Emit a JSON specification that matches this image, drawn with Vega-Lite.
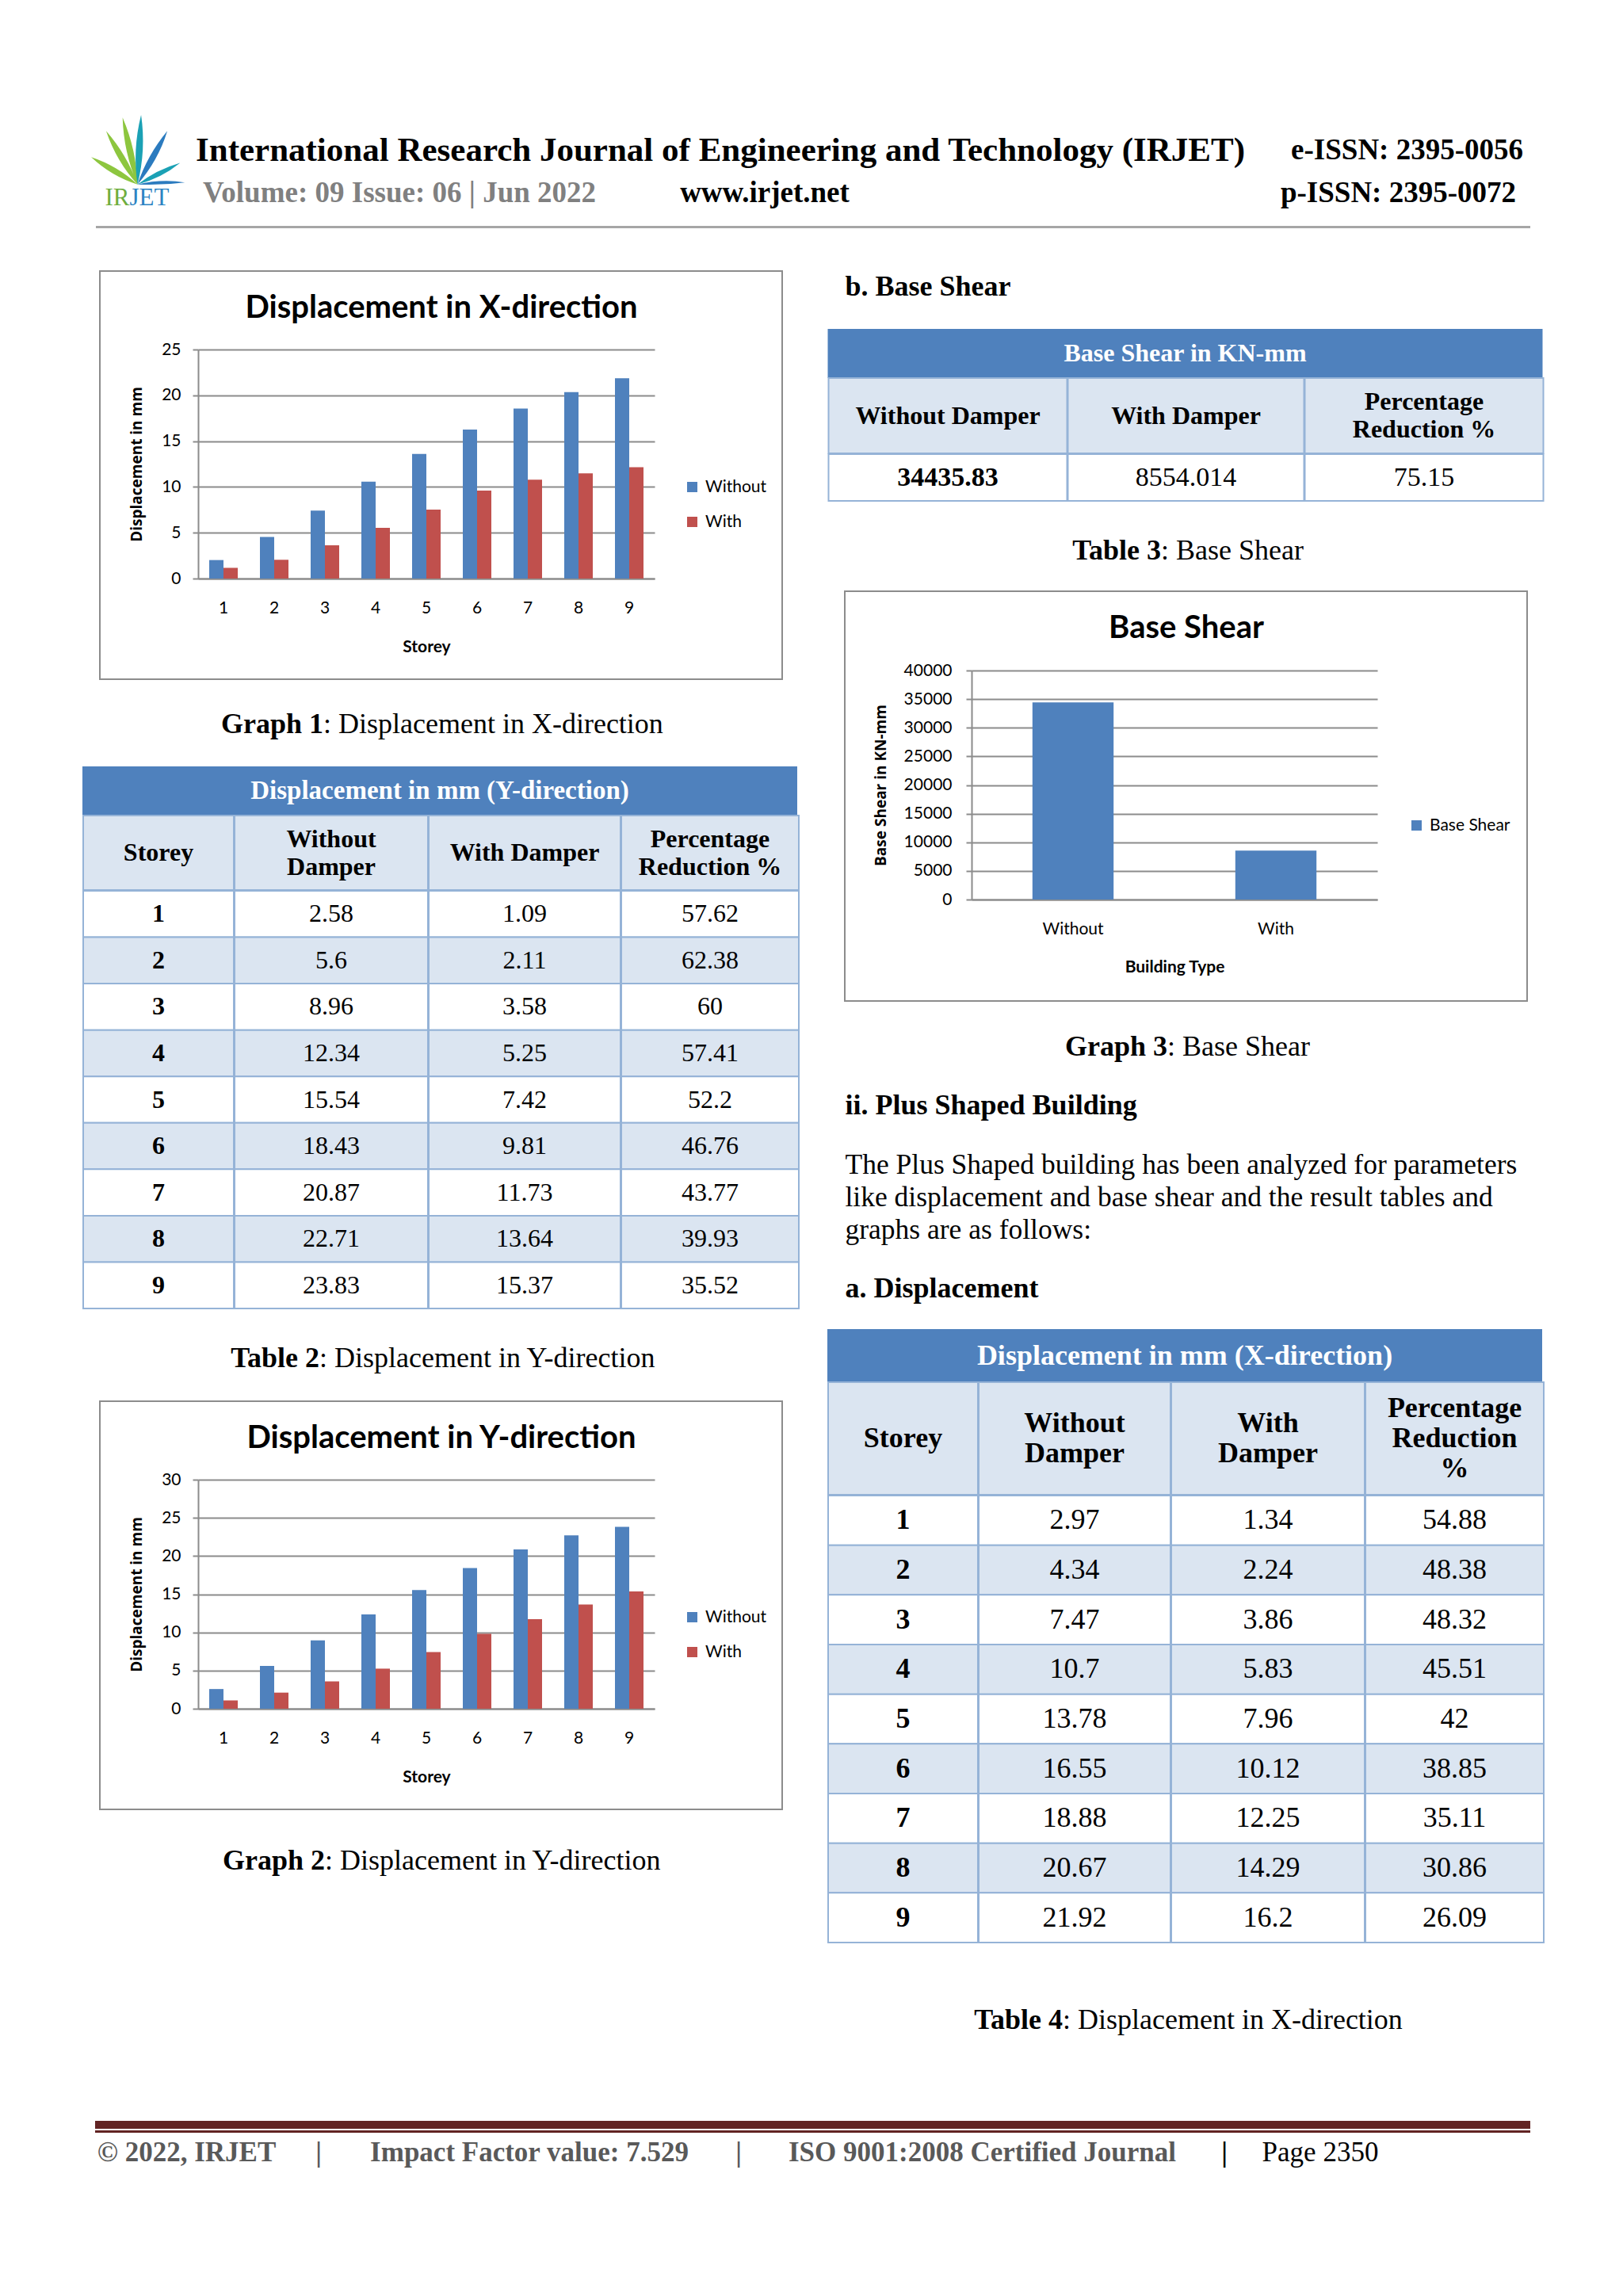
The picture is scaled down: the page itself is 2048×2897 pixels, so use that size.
{
 "$schema": "https://vega.github.io/schema/vega-lite/v6.json",
 "background": "#ffffff",
 "padding": {"left": 104, "top": 140, "right": 0, "bottom": 0},
 "config": {"view": {"stroke": null}, "concat": {"spacing": 0}},
 "datasets": {
  "g1": [
   {"Storey": 1, "Without": 2.02, "With": 1.17},
   {"Storey": 2, "Without": 4.54, "With": 2.05},
   {"Storey": 3, "Without": 7.41, "With": 3.63},
   {"Storey": 4, "Without": 10.58, "With": 5.54},
   {"Storey": 5, "Without": 13.6, "With": 7.53},
   {"Storey": 6, "Without": 16.27, "With": 9.61},
   {"Storey": 7, "Without": 18.55, "With": 10.79},
   {"Storey": 8, "Without": 20.34, "With": 11.49},
   {"Storey": 9, "Without": 21.86, "With": 12.16}
  ],
  "t2": [
   {"Storey": 1, "Without": 2.58, "With": 1.09, "Pct": 57.62},
   {"Storey": 2, "Without": 5.6, "With": 2.11, "Pct": 62.38},
   {"Storey": 3, "Without": 8.96, "With": 3.58, "Pct": 60},
   {"Storey": 4, "Without": 12.34, "With": 5.25, "Pct": 57.41},
   {"Storey": 5, "Without": 15.54, "With": 7.42, "Pct": 52.2},
   {"Storey": 6, "Without": 18.43, "With": 9.81, "Pct": 46.76},
   {"Storey": 7, "Without": 20.87, "With": 11.73, "Pct": 43.77},
   {"Storey": 8, "Without": 22.71, "With": 13.64, "Pct": 39.93},
   {"Storey": 9, "Without": 23.83, "With": 15.37, "Pct": 35.52}
  ],
  "t4": [
   {"Storey": 1, "Without": 2.97, "With": 1.34, "Pct": 54.88},
   {"Storey": 2, "Without": 4.34, "With": 2.24, "Pct": 48.38},
   {"Storey": 3, "Without": 7.47, "With": 3.86, "Pct": 48.32},
   {"Storey": 4, "Without": 10.7, "With": 5.83, "Pct": 45.51},
   {"Storey": 5, "Without": 13.78, "With": 7.96, "Pct": 42},
   {"Storey": 6, "Without": 16.55, "With": 10.12, "Pct": 38.85},
   {"Storey": 7, "Without": 18.88, "With": 12.25, "Pct": 35.11},
   {"Storey": 8, "Without": 20.67, "With": 14.29, "Pct": 30.86},
   {"Storey": 9, "Without": 21.92, "With": 16.2, "Pct": 26.09}
  ],
  "t3": [{"Without Damper": 34435.83, "With Damper": 8554.014, "Pct": 75.15}],
  "g3": [
   {"Type": "Without", "Value": 34435.83, "Series": "Base Shear"},
   {"Type": "With", "Value": 8554.014, "Series": "Base Shear"}
  ]
 },
 "spacing": 0,
 "resolve": {"scale": {"color": "independent"}, "legend": {"color": "independent"}},
 "vconcat": [
  {"hconcat": [
   {"vconcat": [
    {"width": 137, "height": 92, "data": {"values": [{"logo": "IRJET"}]}, "layer": [
     {"mark": {"type": "point", "filled": true, "opacity": 1, "size": 16848, "color": "#8dc63f", "shape": "M0,0.72Q-0.39,0.36 -0.9,0.19Q-0.51,0.56 0,0.72Z M0,0.72Q-0.2,0.15 -0.61,-0.32Q-0.41,0.27 0,0.72Z M0,0.72Q-0.02,0.05 -0.29,-0.58Q-0.27,0.1 0,0.72Z"}, "encoding": {}},
     {"mark": {"type": "point", "filled": true, "opacity": 1, "size": 16848, "color": "#1ba1b5", "shape": "M0,0.72Q0.17,0.05 0.07,-0.63Q-0.1,0.05 0,0.72Z M0,0.72Q0.46,0.6 0.83,0.3Q0.37,0.43 0,0.72Z"}, "encoding": {}},
     {"mark": {"type": "point", "filled": true, "opacity": 1, "size": 16848, "color": "#2b7bbf", "shape": "M0,0.72Q0.4,0.26 0.58,-0.32Q0.19,0.15 0,0.72Z M0,0.72Q0.46,0.74 0.92,0.68Q0.46,0.61 0,0.72Z"}, "encoding": {}}
    ]},
    {"width": 137, "height": 30, "data": {"values": [{"a": "IR", "b": "JET"}]}, "layer": [
     {"mark": {"type": "text", "align": "right", "dx": -10, "font": "Liberation Serif", "fontSize": 31, "color": "#6fae3f"}, "encoding": {"text": {"field": "a", "type": "nominal"}}},
     {"mark": {"type": "text", "align": "left", "dx": -10, "font": "Liberation Serif", "fontSize": 31, "color": "#2c83c3"}, "encoding": {"text": {"field": "b", "type": "nominal"}}}
    ]}
   ], "spacing": 0},
   {"vconcat": [
    {"width": 1, "height": 18, "data": {"values": []}, "mark": "rect", "encoding": {}},
    {"width": 1675, "height": 64, "data": {"values": [{"title": "International Research Journal of Engineering and Technology (IRJET)", "issn": "e-ISSN: 2395-0056"}]}, "layer": [
     {"mark": {"type": "text", "align": "left", "font": "Liberation Serif", "fontSize": 43, "fontWeight": "bold", "color": "#000000"}, "encoding": {"text": {"field": "title", "type": "nominal"}, "x": {"datum": 0, "type": "quantitative", "scale": {"domain": [0, 1]}, "axis": null}}},
     {"mark": {"type": "text", "align": "right", "font": "Liberation Serif", "fontSize": 37, "fontWeight": "bold", "color": "#000000"}, "encoding": {"text": {"field": "issn", "type": "nominal"}, "x": {"datum": 1, "type": "quantitative", "scale": {"domain": [0, 1]}, "axis": null}}}
    ]},
    {"hconcat": [
     {"width": 9, "height": 44, "data": {"values": []}, "mark": "rect", "encoding": {}},
     {"width": 505, "height": 44, "data": {"values": [{"t": "Volume: 09 Issue: 06 | Jun 2022"}]}, "mark": {"type": "text", "align": "left", "font": "Liberation Serif", "fontSize": 37, "fontWeight": "bold", "color": "#808080"}, "encoding": {"text": {"field": "t", "type": "nominal"}, "x": {"datum": 0, "type": "quantitative", "scale": {"domain": [0, 1]}, "axis": null}}},
     {"width": 408, "height": 44, "data": {"values": [{"t": "www.irjet.net"}]}, "mark": {"type": "text", "font": "Liberation Serif", "fontSize": 37, "fontWeight": "bold", "color": "#000000"}, "encoding": {"text": {"field": "t", "type": "nominal"}}},
     {"width": 744, "height": 44, "data": {"values": [{"t": "p-ISSN: 2395-0072"}]}, "mark": {"type": "text", "align": "right", "font": "Liberation Serif", "fontSize": 37, "fontWeight": "bold", "color": "#000000"}, "encoding": {"text": {"field": "t", "type": "nominal"}, "x": {"datum": 1, "type": "quantitative", "scale": {"domain": [0, 1]}, "axis": null}}}
    ], "spacing": 0}
   ], "spacing": 0}
  ], "spacing": 5},
  {"width": 1, "height": 19, "data": {"values": []}, "mark": "rect", "encoding": {}},
  {"hconcat": [
   {"width": 16, "height": 3, "data": {"values": []}, "mark": "rect", "encoding": {}},
   {"width": 1810, "height": 3, "data": {"values": [{"k": 1}]}, "mark": {"type": "rect", "fill": "#a6a6a6"}, "encoding": {}}
  ], "spacing": 0},
  {"hconcat": [
   {"vconcat": [
    {"width": 1, "height": 53, "data": {"values": []}, "mark": "rect", "encoding": {}},
    {
     "width": 861, "height": 515,
     "view": {"stroke": "#8c8c8c", "strokeWidth": 2},
     "data": {"name": "g1"},
     "transform": [{"fold": ["Without", "With"], "as": ["Series", "Value"]}],
     "resolve": {"axis": {"x": "independent"}},
     "layer": [
      {
       "mark": {"type": "bar"},
       "encoding": {
        "x": {"field": "Storey", "type": "ordinal", "title": "Storey",
         "scale": {"range": [124, 700], "paddingInner": 0.4375, "paddingOuter": 0.21875},
         "axis": {"orient": "bottom", "offset": -127, "labelAngle": 0, "ticks": false, "domainColor": "#8c8c8c", "domainWidth": 2, "labelFont": "Lato", "labelFontSize": 21, "labelColor": "#000000", "labelBaseline": "middle", "labelPadding": 37, "titleFont": "Lato", "titleFontSize": 21, "titleFontWeight": "bold", "titleColor": "#000000", "titleY": 86, "titleBaseline": "middle"}},
        "xOffset": {"field": "Series", "type": "nominal", "sort": ["Without", "With"], "scale": {"paddingInner": 0, "paddingOuter": 0}},
        "y": {"field": "Value", "type": "quantitative", "title": "Displacement in mm",
         "scale": {"domain": [0, 25], "range": [388, 99], "nice": false},
         "axis": {"values": [0, 5, 10, 15, 20, 25], "offset": -124, "grid": true, "gridColor": "#8c8c8c", "gridWidth": 2, "domainColor": "#8c8c8c", "domainWidth": 2, "tickColor": "#8c8c8c", "tickWidth": 2, "tickSize": 7, "labelFont": "Lato", "labelFontSize": 21, "labelColor": "#000000", "labelPadding": 15, "titleFont": "Open Sans", "titleFontSize": 19, "titleFontWeight": "bold", "titleColor": "#000000", "titleX": -78, "titleBaseline": "middle"}},
        "color": {"field": "Series", "type": "nominal", "sort": ["Without", "With"], "scale": {"range": ["#4f81bd", "#c0504d"]},
         "legend": {"orient": "none", "legendX": 737, "legendY": 262, "title": null, "symbolType": "square", "symbolSize": 169, "symbolStrokeWidth": 0, "labelFont": "Lato", "labelFontSize": 21, "labelColor": "#000000", "rowPadding": 22, "labelOffset": 6}}
       }
      },
      {
       "mark": {"type": "tick", "opacity": 0},
       "encoding": {
        "x": {"field": "Storey", "type": "ordinal", "title": "Displacement in X-direction",
         "axis": {"orient": "top", "domain": false, "labels": false, "ticks": false, "grid": false, "titleFont": "Lato", "titleFontSize": 40, "titleFontWeight": "bold", "titleColor": "#000000", "titleX": 430.5, "titleY": 46, "titleBaseline": "middle", "titleAlign": "center"}}
       }
      }
     ]
    },
    {"width": 1, "height": 32, "data": {"values": []}, "mark": "rect", "encoding": {}},
    {"hconcat": [
     {"width": 200, "height": 48, "data": {"values": [{"t": "Graph 1"}]}, "mark": {"type": "text", "align": "right", "font": "Liberation Serif", "fontSize": 36, "fontWeight": "bold", "color": "#000000"}, "encoding": {"text": {"field": "t", "type": "nominal"}, "x": {"datum": 1, "type": "quantitative", "scale": {"domain": [0, 1]}, "axis": null}}},
     {"width": 498, "height": 48, "data": {"values": [{"t": ": Displacement in X-direction"}]}, "mark": {"type": "text", "align": "left", "font": "Liberation Serif", "fontSize": 36, "color": "#000000"}, "encoding": {"text": {"field": "t", "type": "nominal"}, "x": {"datum": 0, "type": "quantitative", "scale": {"domain": [0, 1]}, "axis": null}}}
    ], "spacing": 0},
    {"width": 1, "height": 29, "data": {"values": []}, "mark": "rect", "encoding": {}},
    {"vconcat": [
     {"width": 900, "height": 60, "data": {"values": [{"t": "Displacement in mm (Y-direction)"}]}, "layer": [
      {"mark": {"type": "rect", "fill": "#4f81bd", "stroke": "#4f81bd", "strokeWidth": 2}, "encoding": {}},
      {"mark": {"type": "text", "font": "Liberation Serif", "fontSize": 33, "fontWeight": "bold", "color": "#ffffff"}, "encoding": {"text": {"field": "t", "type": "nominal"}}}
     ]},
     {"hconcat": [
      {"width": 190, "height": 94, "data": {"values": [{"t": "Storey"}]}, "layer": [
       {"mark": {"type": "rect", "fill": "#dbe5f1", "stroke": "#95b3d7", "strokeWidth": 2}, "encoding": {}},
       {"mark": {"type": "text", "font": "Liberation Serif", "fontSize": 32, "fontWeight": "bold", "lineHeight": 35, "lineBreak": "\n", "color": "#000000"}, "encoding": {"text": {"field": "t", "type": "nominal"}}}
      ]},
      {"width": 244, "height": 94, "data": {"values": [{"t": "Without\nDamper"}]}, "layer": [
       {"mark": {"type": "rect", "fill": "#dbe5f1", "stroke": "#95b3d7", "strokeWidth": 2}, "encoding": {}},
       {"mark": {"type": "text", "font": "Liberation Serif", "fontSize": 32, "fontWeight": "bold", "lineHeight": 35, "lineBreak": "\n", "dy": -17.5, "color": "#000000"}, "encoding": {"text": {"field": "t", "type": "nominal"}}}
      ]},
      {"width": 242, "height": 94, "data": {"values": [{"t": "With Damper"}]}, "layer": [
       {"mark": {"type": "rect", "fill": "#dbe5f1", "stroke": "#95b3d7", "strokeWidth": 2}, "encoding": {}},
       {"mark": {"type": "text", "font": "Liberation Serif", "fontSize": 32, "fontWeight": "bold", "lineHeight": 35, "lineBreak": "\n", "color": "#000000"}, "encoding": {"text": {"field": "t", "type": "nominal"}}}
      ]},
      {"width": 224, "height": 94, "data": {"values": [{"t": "Percentage\nReduction %"}]}, "layer": [
       {"mark": {"type": "rect", "fill": "#dbe5f1", "stroke": "#95b3d7", "strokeWidth": 2}, "encoding": {}},
       {"mark": {"type": "text", "font": "Liberation Serif", "fontSize": 32, "fontWeight": "bold", "lineHeight": 35, "lineBreak": "\n", "dy": -17.5, "color": "#000000"}, "encoding": {"text": {"field": "t", "type": "nominal"}}}
      ]}
     ], "spacing": -2},
     {"hconcat": [
      {"width": 190, "height": 527, "data": {"name": "t2"}, "encoding": {"y": {"field": "Storey", "type": "ordinal", "axis": null, "scale": {"type": "band", "padding": 0}}}, "layer": [
       {"mark": {"type": "rect", "stroke": "#95b3d7", "strokeWidth": 2}, "encoding": {"fill": {"condition": {"test": "datum.Storey % 2 === 0", "value": "#dbe5f1"}, "value": "#ffffff"}}},
       {"mark": {"type": "text", "font": "Liberation Serif", "fontSize": 32, "fontWeight": "bold", "color": "#000000"}, "encoding": {"text": {"field": "Storey", "type": "nominal"}}}
      ]},
      {"width": 244, "height": 527, "data": {"name": "t2"}, "encoding": {"y": {"field": "Storey", "type": "ordinal", "axis": null, "scale": {"type": "band", "padding": 0}}}, "layer": [
       {"mark": {"type": "rect", "stroke": "#95b3d7", "strokeWidth": 2}, "encoding": {"fill": {"condition": {"test": "datum.Storey % 2 === 0", "value": "#dbe5f1"}, "value": "#ffffff"}}},
       {"mark": {"type": "text", "font": "Liberation Serif", "fontSize": 32, "color": "#000000"}, "encoding": {"text": {"field": "Without", "type": "nominal"}}}
      ]},
      {"width": 242, "height": 527, "data": {"name": "t2"}, "encoding": {"y": {"field": "Storey", "type": "ordinal", "axis": null, "scale": {"type": "band", "padding": 0}}}, "layer": [
       {"mark": {"type": "rect", "stroke": "#95b3d7", "strokeWidth": 2}, "encoding": {"fill": {"condition": {"test": "datum.Storey % 2 === 0", "value": "#dbe5f1"}, "value": "#ffffff"}}},
       {"mark": {"type": "text", "font": "Liberation Serif", "fontSize": 32, "color": "#000000"}, "encoding": {"text": {"field": "With", "type": "nominal"}}}
      ]},
      {"width": 224, "height": 527, "data": {"name": "t2"}, "encoding": {"y": {"field": "Storey", "type": "ordinal", "axis": null, "scale": {"type": "band", "padding": 0}}}, "layer": [
       {"mark": {"type": "rect", "stroke": "#95b3d7", "strokeWidth": 2}, "encoding": {"fill": {"condition": {"test": "datum.Storey % 2 === 0", "value": "#dbe5f1"}, "value": "#ffffff"}}},
       {"mark": {"type": "text", "font": "Liberation Serif", "fontSize": 32, "color": "#000000"}, "encoding": {"text": {"field": "Pct", "type": "nominal"}}}
      ]}
     ], "spacing": -2}
    ], "spacing": -2},
    {"width": 1, "height": 38, "data": {"values": []}, "mark": "rect", "encoding": {}},
    {"hconcat": [
     {"width": 180, "height": 48, "data": {"values": [{"t": "Table 2"}]}, "mark": {"type": "text", "align": "right", "font": "Liberation Serif", "fontSize": 36, "fontWeight": "bold", "color": "#000000"}, "encoding": {"text": {"field": "t", "type": "nominal"}, "x": {"datum": 1, "type": "quantitative", "scale": {"domain": [0, 1]}, "axis": null}}},
     {"width": 488, "height": 48, "data": {"values": [{"t": ": Displacement in Y-direction"}]}, "mark": {"type": "text", "align": "left", "font": "Liberation Serif", "fontSize": 36, "color": "#000000"}, "encoding": {"text": {"field": "t", "type": "nominal"}, "x": {"datum": 0, "type": "quantitative", "scale": {"domain": [0, 1]}, "axis": null}}}
    ], "spacing": 0},
    {"width": 1, "height": 29, "data": {"values": []}, "mark": "rect", "encoding": {}},
    {
     "width": 861, "height": 515,
     "view": {"stroke": "#8c8c8c", "strokeWidth": 2},
     "data": {"name": "t2"},
     "transform": [{"fold": ["Without", "With"], "as": ["Series", "Value"]}],
     "resolve": {"axis": {"x": "independent"}},
     "layer": [
      {
       "mark": {"type": "bar"},
       "encoding": {
        "x": {"field": "Storey", "type": "ordinal", "title": "Storey",
         "scale": {"range": [124, 700], "paddingInner": 0.4375, "paddingOuter": 0.21875},
         "axis": {"orient": "bottom", "offset": -127, "labelAngle": 0, "ticks": false, "domainColor": "#8c8c8c", "domainWidth": 2, "labelFont": "Lato", "labelFontSize": 21, "labelColor": "#000000", "labelBaseline": "middle", "labelPadding": 37, "titleFont": "Lato", "titleFontSize": 21, "titleFontWeight": "bold", "titleColor": "#000000", "titleY": 86, "titleBaseline": "middle"}},
        "xOffset": {"field": "Series", "type": "nominal", "sort": ["Without", "With"], "scale": {"paddingInner": 0, "paddingOuter": 0}},
        "y": {"field": "Value", "type": "quantitative", "title": "Displacement in mm",
         "scale": {"domain": [0, 30], "range": [388, 99], "nice": false},
         "axis": {"values": [0, 5, 10, 15, 20, 25, 30], "offset": -124, "grid": true, "gridColor": "#8c8c8c", "gridWidth": 2, "domainColor": "#8c8c8c", "domainWidth": 2, "tickColor": "#8c8c8c", "tickWidth": 2, "tickSize": 7, "labelFont": "Lato", "labelFontSize": 21, "labelColor": "#000000", "labelPadding": 15, "titleFont": "Open Sans", "titleFontSize": 19, "titleFontWeight": "bold", "titleColor": "#000000", "titleX": -78, "titleBaseline": "middle"}},
        "color": {"field": "Series", "type": "nominal", "sort": ["Without", "With"], "scale": {"range": ["#4f81bd", "#c0504d"]},
         "legend": {"orient": "none", "legendX": 737, "legendY": 262, "title": null, "symbolType": "square", "symbolSize": 169, "symbolStrokeWidth": 0, "labelFont": "Lato", "labelFontSize": 21, "labelColor": "#000000", "rowPadding": 22, "labelOffset": 6}}
       }
      },
      {
       "mark": {"type": "tick", "opacity": 0},
       "encoding": {
        "x": {"field": "Storey", "type": "ordinal", "title": "Displacement in Y-direction",
         "axis": {"orient": "top", "domain": false, "labels": false, "ticks": false, "grid": false, "titleFont": "Lato", "titleFontSize": 40, "titleFontWeight": "bold", "titleColor": "#000000", "titleX": 430.5, "titleY": 46, "titleBaseline": "middle", "titleAlign": "center"}}
       }
      }
     ]
    },
    {"width": 1, "height": 40, "data": {"values": []}, "mark": "rect", "encoding": {}},
    {"hconcat": [
     {"width": 188, "height": 48, "data": {"values": [{"t": "Graph 2"}]}, "mark": {"type": "text", "align": "right", "font": "Liberation Serif", "fontSize": 36, "fontWeight": "bold", "color": "#000000"}, "encoding": {"text": {"field": "t", "type": "nominal"}, "x": {"datum": 1, "type": "quantitative", "scale": {"domain": [0, 1]}, "axis": null}}},
     {"width": 482, "height": 48, "data": {"values": [{"t": ": Displacement in Y-direction"}]}, "mark": {"type": "text", "align": "left", "font": "Liberation Serif", "fontSize": 36, "color": "#000000"}, "encoding": {"text": {"field": "t", "type": "nominal"}, "x": {"datum": 0, "type": "quantitative", "scale": {"domain": [0, 1]}, "axis": null}}}
    ], "spacing": 0}
   ], "spacing": 0, "center": true, "resolve": {"scale": {"color": "independent"}, "legend": {"color": "independent"}}},
   {"vconcat": [
    {"width": 1, "height": 50, "data": {"values": []}, "mark": "rect", "encoding": {}},
    {"width": 861, "height": 48, "data": {"values": [{"t": "b. Base Shear"}]}, "mark": {"type": "text", "align": "left", "font": "Liberation Serif", "fontSize": 36, "fontWeight": "bold", "color": "#000000"}, "encoding": {"text": {"field": "t", "type": "nominal"}, "x": {"datum": 0, "type": "quantitative", "scale": {"domain": [0, 1]}, "axis": null}}},
    {"width": 1, "height": 29, "data": {"values": []}, "mark": "rect", "encoding": {}},
    {"vconcat": [
     {"width": 900, "height": 60, "data": {"values": [{"t": "Base Shear in KN-mm"}]}, "layer": [
      {"mark": {"type": "rect", "fill": "#4f81bd", "stroke": "#4f81bd", "strokeWidth": 2}, "encoding": {}},
      {"mark": {"type": "text", "font": "Liberation Serif", "fontSize": 32, "fontWeight": "bold", "color": "#ffffff"}, "encoding": {"text": {"field": "t", "type": "nominal"}}}
     ]},
     {"hconcat": [
      {"width": 301, "height": 95, "data": {"values": [{"t": "Without Damper"}]}, "layer": [
       {"mark": {"type": "rect", "fill": "#dbe5f1", "stroke": "#95b3d7", "strokeWidth": 2}, "encoding": {}},
       {"mark": {"type": "text", "font": "Liberation Serif", "fontSize": 32, "fontWeight": "bold", "lineHeight": 35, "lineBreak": "\n", "color": "#000000"}, "encoding": {"text": {"field": "t", "type": "nominal"}}}
      ]},
      {"width": 298, "height": 95, "data": {"values": [{"t": "With Damper"}]}, "layer": [
       {"mark": {"type": "rect", "fill": "#dbe5f1", "stroke": "#95b3d7", "strokeWidth": 2}, "encoding": {}},
       {"mark": {"type": "text", "font": "Liberation Serif", "fontSize": 32, "fontWeight": "bold", "lineHeight": 35, "lineBreak": "\n", "color": "#000000"}, "encoding": {"text": {"field": "t", "type": "nominal"}}}
      ]},
      {"width": 301, "height": 95, "data": {"values": [{"t": "Percentage\nReduction %"}]}, "layer": [
       {"mark": {"type": "rect", "fill": "#dbe5f1", "stroke": "#95b3d7", "strokeWidth": 2}, "encoding": {}},
       {"mark": {"type": "text", "font": "Liberation Serif", "fontSize": 32, "fontWeight": "bold", "lineHeight": 35, "lineBreak": "\n", "dy": -17.5, "color": "#000000"}, "encoding": {"text": {"field": "t", "type": "nominal"}}}
      ]}
     ], "spacing": -2},
     {"hconcat": [
      {"width": 301, "height": 59, "data": {"name": "t3"}, "layer": [
       {"mark": {"type": "rect", "fill": "#ffffff", "stroke": "#95b3d7", "strokeWidth": 2}, "encoding": {}},
       {"mark": {"type": "text", "font": "Liberation Serif", "fontSize": 34, "fontWeight": "bold", "color": "#000000"}, "encoding": {"text": {"field": "Without Damper", "type": "nominal"}}}
      ]},
      {"width": 298, "height": 59, "data": {"name": "t3"}, "layer": [
       {"mark": {"type": "rect", "fill": "#ffffff", "stroke": "#95b3d7", "strokeWidth": 2}, "encoding": {}},
       {"mark": {"type": "text", "font": "Liberation Serif", "fontSize": 34, "color": "#000000"}, "encoding": {"text": {"field": "With Damper", "type": "nominal"}}}
      ]},
      {"width": 301, "height": 59, "data": {"name": "t3"}, "layer": [
       {"mark": {"type": "rect", "fill": "#ffffff", "stroke": "#95b3d7", "strokeWidth": 2}, "encoding": {}},
       {"mark": {"type": "text", "font": "Liberation Serif", "fontSize": 34, "color": "#000000"}, "encoding": {"text": {"field": "Pct", "type": "nominal"}}}
      ]}
     ], "spacing": -2}
    ], "spacing": -2},
    {"width": 1, "height": 38, "data": {"values": []}, "mark": "rect", "encoding": {}},
    {"hconcat": [
     {"width": 150, "height": 48, "data": {"values": [{"t": "Table 3"}]}, "mark": {"type": "text", "align": "right", "font": "Liberation Serif", "fontSize": 36, "fontWeight": "bold", "color": "#000000"}, "encoding": {"text": {"field": "t", "type": "nominal"}, "x": {"datum": 1, "type": "quantitative", "scale": {"domain": [0, 1]}, "axis": null}}},
     {"width": 214, "height": 48, "data": {"values": [{"t": ": Base Shear"}]}, "mark": {"type": "text", "align": "left", "font": "Liberation Serif", "fontSize": 36, "color": "#000000"}, "encoding": {"text": {"field": "t", "type": "nominal"}, "x": {"datum": 0, "type": "quantitative", "scale": {"domain": [0, 1]}, "axis": null}}}
    ], "spacing": 0},
    {"width": 1, "height": 26, "data": {"values": []}, "mark": "rect", "encoding": {}},
    {
     "width": 861, "height": 517,
     "view": {"stroke": "#8c8c8c", "strokeWidth": 2},
     "data": {"name": "g3"},
     "resolve": {"axis": {"x": "independent"}},
     "layer": [
      {
       "mark": {"type": "bar"},
       "encoding": {
        "x": {"field": "Type", "type": "nominal", "sort": ["Without", "With"], "title": "Building Type",
         "scale": {"range": [160, 672], "paddingInner": 0.6, "paddingOuter": 0.3},
         "axis": {"orient": "bottom", "offset": -128, "labelAngle": 0, "ticks": false, "domainColor": "#8c8c8c", "domainWidth": 2, "labelFont": "Lato", "labelFontSize": 21, "labelColor": "#000000", "labelBaseline": "middle", "labelPadding": 37, "titleFont": "Lato", "titleFontSize": 21, "titleFontWeight": "bold", "titleColor": "#000000", "titleY": 85, "titleBaseline": "middle"}},
        "y": {"field": "Value", "type": "quantitative", "title": "Base Shear in KN-mm",
         "scale": {"domain": [0, 40000], "range": [389, 100], "nice": false},
         "axis": {"values": [0, 5000, 10000, 15000, 20000, 25000, 30000, 35000, 40000], "format": "d", "offset": -160, "grid": true, "gridColor": "#8c8c8c", "gridWidth": 2, "domainColor": "#8c8c8c", "domainWidth": 2, "tickColor": "#8c8c8c", "tickWidth": 2, "tickSize": 7, "labelFont": "Lato", "labelFontSize": 21, "labelColor": "#000000", "labelPadding": 18, "titleFont": "Open Sans", "titleFontSize": 19, "titleFontWeight": "bold", "titleColor": "#000000", "titleX": -115, "titleBaseline": "middle"}},
        "color": {"field": "Series", "type": "nominal", "scale": {"range": ["#4f81bd"]},
         "legend": {"orient": "none", "legendX": 711, "legendY": 285, "title": null, "symbolType": "square", "symbolSize": 169, "symbolStrokeWidth": 0, "labelFont": "Lato", "labelFontSize": 21, "labelColor": "#000000", "labelOffset": 6}}
       }
      },
      {
       "mark": {"type": "tick", "opacity": 0},
       "encoding": {
        "x": {"field": "Type", "type": "nominal", "sort": ["Without", "With"], "title": "Base Shear",
         "axis": {"orient": "top", "domain": false, "labels": false, "ticks": false, "grid": false, "titleFont": "Lato", "titleFontSize": 40, "titleFontWeight": "bold", "titleColor": "#000000", "titleX": 430.5, "titleY": 46, "titleBaseline": "middle", "titleAlign": "center"}}
       }
      }
     ]
    },
    {"width": 1, "height": 33, "data": {"values": []}, "mark": "rect", "encoding": {}},
    {"hconcat": [
     {"width": 160, "height": 48, "data": {"values": [{"t": "Graph 3"}]}, "mark": {"type": "text", "align": "right", "font": "Liberation Serif", "fontSize": 36, "fontWeight": "bold", "color": "#000000"}, "encoding": {"text": {"field": "t", "type": "nominal"}, "x": {"datum": 1, "type": "quantitative", "scale": {"domain": [0, 1]}, "axis": null}}},
     {"width": 208, "height": 48, "data": {"values": [{"t": ": Base Shear"}]}, "mark": {"type": "text", "align": "left", "font": "Liberation Serif", "fontSize": 36, "color": "#000000"}, "encoding": {"text": {"field": "t", "type": "nominal"}, "x": {"datum": 0, "type": "quantitative", "scale": {"domain": [0, 1]}, "axis": null}}}
    ], "spacing": 0},
    {"width": 1, "height": 26, "data": {"values": []}, "mark": "rect", "encoding": {}},
    {"width": 861, "height": 48, "data": {"values": [{"t": "ii. Plus Shaped Building"}]}, "mark": {"type": "text", "align": "left", "font": "Liberation Serif", "fontSize": 36, "fontWeight": "bold", "color": "#000000"}, "encoding": {"text": {"field": "t", "type": "nominal"}, "x": {"datum": 0, "type": "quantitative", "scale": {"domain": [0, 1]}, "axis": null}}},
    {"width": 1, "height": 31, "data": {"values": []}, "mark": "rect", "encoding": {}},
    {"width": 861, "height": 122, "data": {"values": [
      {"line": 1, "text": "The Plus Shaped building has been analyzed for parameters"},
      {"line": 2, "text": "like displacement and base shear and the result tables and"},
      {"line": 3, "text": "graphs are as follows:"}
     ]},
     "mark": {"type": "text", "align": "left", "font": "Liberation Serif", "fontSize": 35.5, "color": "#000000"},
     "encoding": {"y": {"field": "line", "type": "ordinal", "axis": null, "scale": {"type": "band", "padding": 0}}, "x": {"datum": 0, "type": "quantitative", "scale": {"domain": [0, 1]}, "axis": null}, "text": {"field": "text", "type": "nominal"}}},
    {"width": 1, "height": 30, "data": {"values": []}, "mark": "rect", "encoding": {}},
    {"width": 861, "height": 48, "data": {"values": [{"t": "a. Displacement"}]}, "mark": {"type": "text", "align": "left", "font": "Liberation Serif", "fontSize": 36, "fontWeight": "bold", "color": "#000000"}, "encoding": {"text": {"field": "t", "type": "nominal"}, "x": {"datum": 0, "type": "quantitative", "scale": {"domain": [0, 1]}, "axis": null}}},
    {"width": 1, "height": 27, "data": {"values": []}, "mark": "rect", "encoding": {}},
    {"vconcat": [
     {"width": 900, "height": 65, "data": {"values": [{"t": "Displacement in mm (X-direction)"}]}, "layer": [
      {"mark": {"type": "rect", "fill": "#4f81bd", "stroke": "#4f81bd", "strokeWidth": 2}, "encoding": {}},
      {"mark": {"type": "text", "font": "Liberation Serif", "fontSize": 36, "fontWeight": "bold", "color": "#ffffff"}, "encoding": {"text": {"field": "t", "type": "nominal"}}}
     ]},
     {"hconcat": [
      {"width": 189, "height": 142, "data": {"values": [{"t": "Storey"}]}, "layer": [
       {"mark": {"type": "rect", "fill": "#dbe5f1", "stroke": "#95b3d7", "strokeWidth": 2}, "encoding": {}},
       {"mark": {"type": "text", "font": "Liberation Serif", "fontSize": 36, "fontWeight": "bold", "lineHeight": 38, "lineBreak": "\n", "color": "#000000"}, "encoding": {"text": {"field": "t", "type": "nominal"}}}
      ]},
      {"width": 242, "height": 142, "data": {"values": [{"t": "Without\nDamper"}]}, "layer": [
       {"mark": {"type": "rect", "fill": "#dbe5f1", "stroke": "#95b3d7", "strokeWidth": 2}, "encoding": {}},
       {"mark": {"type": "text", "font": "Liberation Serif", "fontSize": 36, "fontWeight": "bold", "lineHeight": 38, "lineBreak": "\n", "dy": -19, "color": "#000000"}, "encoding": {"text": {"field": "t", "type": "nominal"}}}
      ]},
      {"width": 244, "height": 142, "data": {"values": [{"t": "With\nDamper"}]}, "layer": [
       {"mark": {"type": "rect", "fill": "#dbe5f1", "stroke": "#95b3d7", "strokeWidth": 2}, "encoding": {}},
       {"mark": {"type": "text", "font": "Liberation Serif", "fontSize": 36, "fontWeight": "bold", "lineHeight": 38, "lineBreak": "\n", "dy": -19, "color": "#000000"}, "encoding": {"text": {"field": "t", "type": "nominal"}}}
      ]},
      {"width": 225, "height": 142, "data": {"values": [{"t": "Percentage\nReduction\n%"}]}, "layer": [
       {"mark": {"type": "rect", "fill": "#dbe5f1", "stroke": "#95b3d7", "strokeWidth": 2}, "encoding": {}},
       {"mark": {"type": "text", "font": "Liberation Serif", "fontSize": 36, "fontWeight": "bold", "lineHeight": 38, "lineBreak": "\n", "dy": -38, "color": "#000000"}, "encoding": {"text": {"field": "t", "type": "nominal"}}}
      ]}
     ], "spacing": -2},
     {"hconcat": [
      {"width": 189, "height": 564, "data": {"name": "t4"}, "encoding": {"y": {"field": "Storey", "type": "ordinal", "axis": null, "scale": {"type": "band", "padding": 0}}}, "layer": [
       {"mark": {"type": "rect", "stroke": "#95b3d7", "strokeWidth": 2}, "encoding": {"fill": {"condition": {"test": "datum.Storey % 2 === 0", "value": "#dbe5f1"}, "value": "#ffffff"}}},
       {"mark": {"type": "text", "font": "Liberation Serif", "fontSize": 36, "fontWeight": "bold", "color": "#000000"}, "encoding": {"text": {"field": "Storey", "type": "nominal"}}}
      ]},
      {"width": 242, "height": 564, "data": {"name": "t4"}, "encoding": {"y": {"field": "Storey", "type": "ordinal", "axis": null, "scale": {"type": "band", "padding": 0}}}, "layer": [
       {"mark": {"type": "rect", "stroke": "#95b3d7", "strokeWidth": 2}, "encoding": {"fill": {"condition": {"test": "datum.Storey % 2 === 0", "value": "#dbe5f1"}, "value": "#ffffff"}}},
       {"mark": {"type": "text", "font": "Liberation Serif", "fontSize": 36, "color": "#000000"}, "encoding": {"text": {"field": "Without", "type": "nominal"}}}
      ]},
      {"width": 244, "height": 564, "data": {"name": "t4"}, "encoding": {"y": {"field": "Storey", "type": "ordinal", "axis": null, "scale": {"type": "band", "padding": 0}}}, "layer": [
       {"mark": {"type": "rect", "stroke": "#95b3d7", "strokeWidth": 2}, "encoding": {"fill": {"condition": {"test": "datum.Storey % 2 === 0", "value": "#dbe5f1"}, "value": "#ffffff"}}},
       {"mark": {"type": "text", "font": "Liberation Serif", "fontSize": 36, "color": "#000000"}, "encoding": {"text": {"field": "With", "type": "nominal"}}}
      ]},
      {"width": 225, "height": 564, "data": {"name": "t4"}, "encoding": {"y": {"field": "Storey", "type": "ordinal", "axis": null, "scale": {"type": "band", "padding": 0}}}, "layer": [
       {"mark": {"type": "rect", "stroke": "#95b3d7", "strokeWidth": 2}, "encoding": {"fill": {"condition": {"test": "datum.Storey % 2 === 0", "value": "#dbe5f1"}, "value": "#ffffff"}}},
       {"mark": {"type": "text", "font": "Liberation Serif", "fontSize": 36, "color": "#000000"}, "encoding": {"text": {"field": "Pct", "type": "nominal"}}}
      ]}
     ], "spacing": -2}
    ], "spacing": -2},
    {"width": 1, "height": 73, "data": {"values": []}, "mark": "rect", "encoding": {}},
    {"hconcat": [
     {"width": 150, "height": 48, "data": {"values": [{"t": "Table 4"}]}, "mark": {"type": "text", "align": "right", "font": "Liberation Serif", "fontSize": 36, "fontWeight": "bold", "color": "#000000"}, "encoding": {"text": {"field": "t", "type": "nominal"}, "x": {"datum": 1, "type": "quantitative", "scale": {"domain": [0, 1]}, "axis": null}}},
     {"width": 462, "height": 48, "data": {"values": [{"t": ": Displacement in X-direction"}]}, "mark": {"type": "text", "align": "left", "font": "Liberation Serif", "fontSize": 36, "color": "#000000"}, "encoding": {"text": {"field": "t", "type": "nominal"}, "x": {"datum": 0, "type": "quantitative", "scale": {"domain": [0, 1]}, "axis": null}}}
    ], "spacing": 0}
   ], "spacing": 0, "center": true, "resolve": {"scale": {"color": "independent"}, "legend": {"color": "independent"}}}
  ], "spacing": 35, "resolve": {"scale": {"color": "independent"}, "legend": {"color": "independent"}}},
  {"width": 1, "height": 103, "data": {"values": []}, "mark": "rect", "encoding": {}},
  {"hconcat": [
   {"width": 15, "height": 10, "data": {"values": []}, "mark": "rect", "encoding": {}},
   {"width": 1811, "height": 10, "data": {"values": [{"k": 1}]}, "mark": {"type": "rect", "fill": "#622423"}, "encoding": {}}
  ], "spacing": 0},
  {"width": 1, "height": 2, "data": {"values": []}, "mark": "rect", "encoding": {}},
  {"hconcat": [
   {"width": 15, "height": 3, "data": {"values": []}, "mark": "rect", "encoding": {}},
   {"width": 1811, "height": 3, "data": {"values": [{"k": 1}]}, "mark": {"type": "rect", "fill": "#622423"}, "encoding": {}}
  ], "spacing": 0},
  {"width": 1, "height": 5, "data": {"values": []}, "mark": "rect", "encoding": {}},
  {"hconcat": [
   {"width": 261, "height": 40, "data": {"values": [{"t": "© 2022, IRJET"}]}, "mark": {"type": "text", "font": "Liberation Serif", "fontSize": 35, "fontWeight": "bold", "color": "#595959"}, "encoding": {"text": {"field": "t", "type": "nominal"}}},
   {"width": 72, "height": 40, "data": {"values": [{"t": "|"}]}, "mark": {"type": "text", "font": "Liberation Serif", "fontSize": 35, "fontWeight": "bold", "color": "#595959"}, "encoding": {"text": {"field": "t", "type": "nominal"}}},
   {"width": 460, "height": 40, "data": {"values": [{"t": "Impact Factor value: 7.529"}]}, "mark": {"type": "text", "font": "Liberation Serif", "fontSize": 35, "fontWeight": "bold", "color": "#595959"}, "encoding": {"text": {"field": "t", "type": "nominal"}}},
   {"width": 68, "height": 40, "data": {"values": [{"t": "|"}]}, "mark": {"type": "text", "font": "Liberation Serif", "fontSize": 35, "fontWeight": "bold", "color": "#595959"}, "encoding": {"text": {"field": "t", "type": "nominal"}}},
   {"width": 547, "height": 40, "data": {"values": [{"t": "ISO 9001:2008 Certified Journal"}]}, "mark": {"type": "text", "font": "Liberation Serif", "fontSize": 35, "fontWeight": "bold", "color": "#595959"}, "encoding": {"text": {"field": "t", "type": "nominal"}}},
   {"width": 64, "height": 40, "data": {"values": [{"t": "|"}]}, "mark": {"type": "text", "font": "Liberation Serif", "fontSize": 35, "fontWeight": "bold", "color": "#000000"}, "encoding": {"text": {"field": "t", "type": "nominal"}}},
   {"width": 178, "height": 40, "data": {"values": [{"t": "Page 2350"}]}, "mark": {"type": "text", "font": "Liberation Serif", "fontSize": 35, "fontWeight": "normal", "color": "#000000"}, "encoding": {"text": {"field": "t", "type": "nominal"}}}
  ], "spacing": 0}
 ]
}
